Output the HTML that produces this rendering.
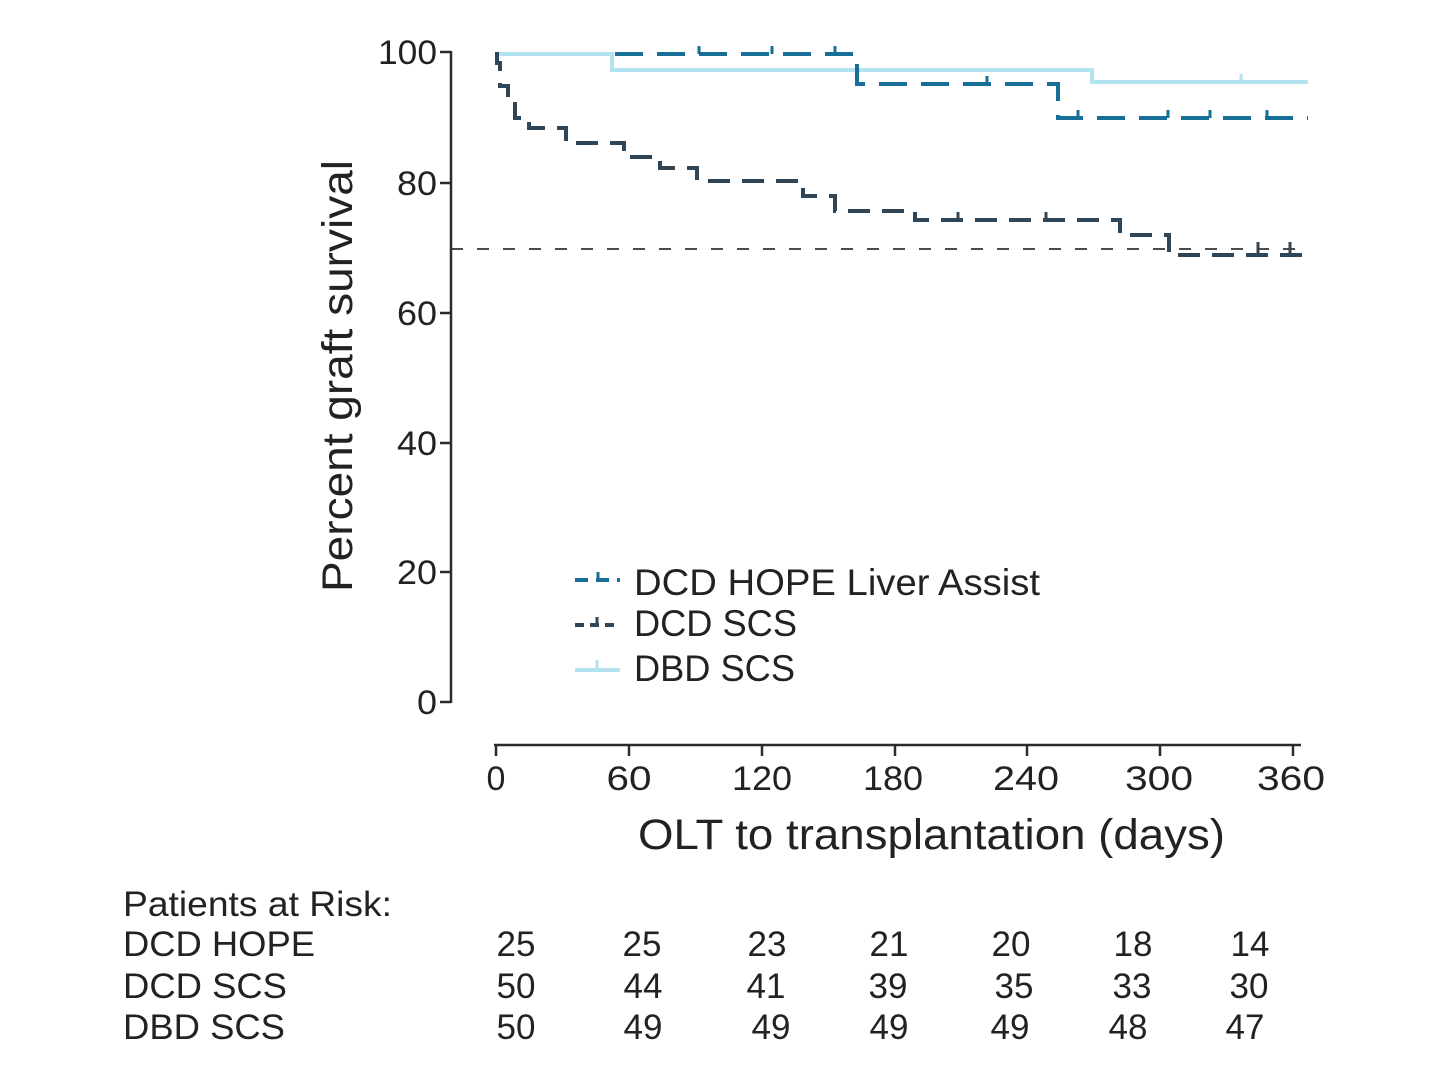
<!DOCTYPE html>
<html><head><meta charset="utf-8"><style>
html,body{margin:0;padding:0;background:#fff;}
svg{display:block;font-family:"Liberation Sans",sans-serif;}
</style></head><body>
<svg width="1450" height="1080" viewBox="0 0 1450 1080" xmlns="http://www.w3.org/2000/svg">
<g stroke="#2b2b2b" stroke-width="2.5" fill="none">
<line x1="451" y1="51" x2="451" y2="703"/>
<line x1="440" y1="52" x2="451" y2="52"/>
<line x1="440" y1="183" x2="451" y2="183"/>
<line x1="440" y1="313" x2="451" y2="313"/>
<line x1="440" y1="443" x2="451" y2="443"/>
<line x1="440" y1="572" x2="451" y2="572"/>
<line x1="440" y1="702" x2="451" y2="702"/>
<line x1="494" y1="745" x2="1301" y2="745"/>
<line x1="496" y1="745" x2="496" y2="756"/>
<line x1="629" y1="745" x2="629" y2="756"/>
<line x1="762" y1="745" x2="762" y2="756"/>
<line x1="895" y1="745" x2="895" y2="756"/>
<line x1="1027" y1="745" x2="1027" y2="756"/>
<line x1="1160" y1="745" x2="1160" y2="756"/>
<line x1="1293" y1="745" x2="1293" y2="756"/>
</g>
<line x1="451" y1="249" x2="1308" y2="249" stroke="#333" stroke-width="1.8" stroke-dasharray="12,14"/>
<g font-size="34" fill="#222" text-anchor="end" lengthAdjust="spacingAndGlyphs">
<text x="437" y="64" textLength="59" lengthAdjust="spacingAndGlyphs">100</text><text x="437" y="195" textLength="40" lengthAdjust="spacingAndGlyphs">80</text><text x="437" y="325" textLength="40" lengthAdjust="spacingAndGlyphs">60</text>
<text x="437" y="455" textLength="40" lengthAdjust="spacingAndGlyphs">40</text><text x="437" y="584" textLength="40" lengthAdjust="spacingAndGlyphs">20</text><text x="437" y="714" textLength="20" lengthAdjust="spacingAndGlyphs">0</text>
</g>
<g font-size="34" fill="#222" text-anchor="middle">
<text x="496" y="790">0</text>
<text x="629" y="790" textLength="45" lengthAdjust="spacingAndGlyphs">60</text>
<text x="762" y="790" textLength="60" lengthAdjust="spacingAndGlyphs">120</text>
<text x="893" y="790" textLength="60" lengthAdjust="spacingAndGlyphs">180</text>
<text x="1026" y="790" textLength="66" lengthAdjust="spacingAndGlyphs">240</text>
<text x="1159" y="790" textLength="68" lengthAdjust="spacingAndGlyphs">300</text>
<text x="1291" y="790" textLength="68" lengthAdjust="spacingAndGlyphs">360</text>
</g>
<text x="638" y="849" font-size="43" fill="#222" textLength="587" lengthAdjust="spacingAndGlyphs">OLT to transplantation (days)</text>
<text transform="translate(352,592) rotate(-90)" font-size="43" fill="#222" textLength="432" lengthAdjust="spacingAndGlyphs">Percent graft survival</text>
<!-- DBD SCS -->
<polyline points="496,54 612,54 612,70 1092,70 1092,82 1308,82" fill="none" stroke="#b3e2f0" stroke-width="4"/>
<line x1="1241" y1="74" x2="1241" y2="82" stroke="#b3e2f0" stroke-width="3"/>
<!-- DCD HOPE -->
<polyline points="615,54 857,54 857,84 1058,84 1058,118 1308,118" fill="none" stroke="#176f97" stroke-width="4" stroke-dasharray="28,14"/>
<g stroke="#176f97" stroke-width="3">
<line x1="699" y1="46" x2="699" y2="54"/><line x1="772" y1="46" x2="772" y2="54"/><line x1="835" y1="46" x2="835" y2="54"/>
<line x1="987" y1="76" x2="987" y2="84"/><line x1="1078" y1="110" x2="1078" y2="118"/><line x1="1168" y1="110" x2="1168" y2="118"/>
<line x1="1210" y1="110" x2="1210" y2="118"/><line x1="1267" y1="110" x2="1267" y2="118"/>
</g>
<!-- DCD SCS -->
<polyline points="497,52 497,63 500,63 500,86 508,86 508,100 515,100 515,118 529,118 529,128 566,128 566,143 624,143 624,157 660,157 660,168 697,168 697,181 803,181 803,196 835,196 835,211 915,211 915,220 1120,220 1120,235 1169,235 1169,255 1308,255" fill="none" stroke="#2f4558" stroke-width="4" stroke-dasharray="22,12"/>
<g stroke="#2f4558" stroke-width="3">
<line x1="958" y1="212" x2="958" y2="220"/><line x1="1046" y1="212" x2="1046" y2="220"/>
<line x1="1258" y1="242" x2="1258" y2="255"/><line x1="1290" y1="242" x2="1290" y2="255"/>
</g>
<!-- legend -->
<g stroke-width="4">
<line x1="575" y1="580" x2="620" y2="580" stroke="#176f97" stroke-dasharray="13,8"/>
<line x1="598" y1="572" x2="598" y2="580" stroke="#176f97" stroke-width="3"/>
<line x1="575" y1="625" x2="620" y2="625" stroke="#2f4558" stroke-dasharray="9,6"/>
<line x1="597" y1="617" x2="597" y2="625" stroke="#2f4558" stroke-width="3"/>
<line x1="575" y1="670" x2="620" y2="670" stroke="#b3e2f0"/>
<line x1="597" y1="660" x2="597" y2="670" stroke="#b3e2f0" stroke-width="3"/>
</g>
<g font-size="37" fill="#222">
<text x="634" y="595" textLength="406" lengthAdjust="spacingAndGlyphs">DCD HOPE Liver Assist</text>
<text x="634" y="636" textLength="163" lengthAdjust="spacingAndGlyphs">DCD SCS</text>
<text x="634" y="681" textLength="161" lengthAdjust="spacingAndGlyphs">DBD SCS</text>
</g>
<g font-size="35" fill="#222">
<text x="123" y="916" textLength="269" lengthAdjust="spacingAndGlyphs">Patients at Risk:</text>
<text x="123" y="956" textLength="192" lengthAdjust="spacingAndGlyphs">DCD HOPE</text>
<text x="123" y="998" textLength="164" lengthAdjust="spacingAndGlyphs">DCD SCS</text>
<text x="123" y="1039" textLength="162" lengthAdjust="spacingAndGlyphs">DBD SCS</text>
</g>
<g font-size="35" fill="#222" text-anchor="middle">
<text x="516" y="956">25</text><text x="642" y="956">25</text><text x="767" y="956">23</text><text x="889" y="956">21</text><text x="1011" y="956">20</text><text x="1133" y="956">18</text><text x="1250" y="956">14</text>
<text x="516" y="998">50</text><text x="643" y="998">44</text><text x="766" y="998">41</text><text x="888" y="998">39</text><text x="1014" y="998">35</text><text x="1132" y="998">33</text><text x="1249" y="998">30</text>
<text x="516" y="1039">50</text><text x="643" y="1039">49</text><text x="771" y="1039">49</text><text x="889" y="1039">49</text><text x="1010" y="1039">49</text><text x="1128" y="1039">48</text><text x="1245" y="1039">47</text>
</g>
</svg>
</body></html>
